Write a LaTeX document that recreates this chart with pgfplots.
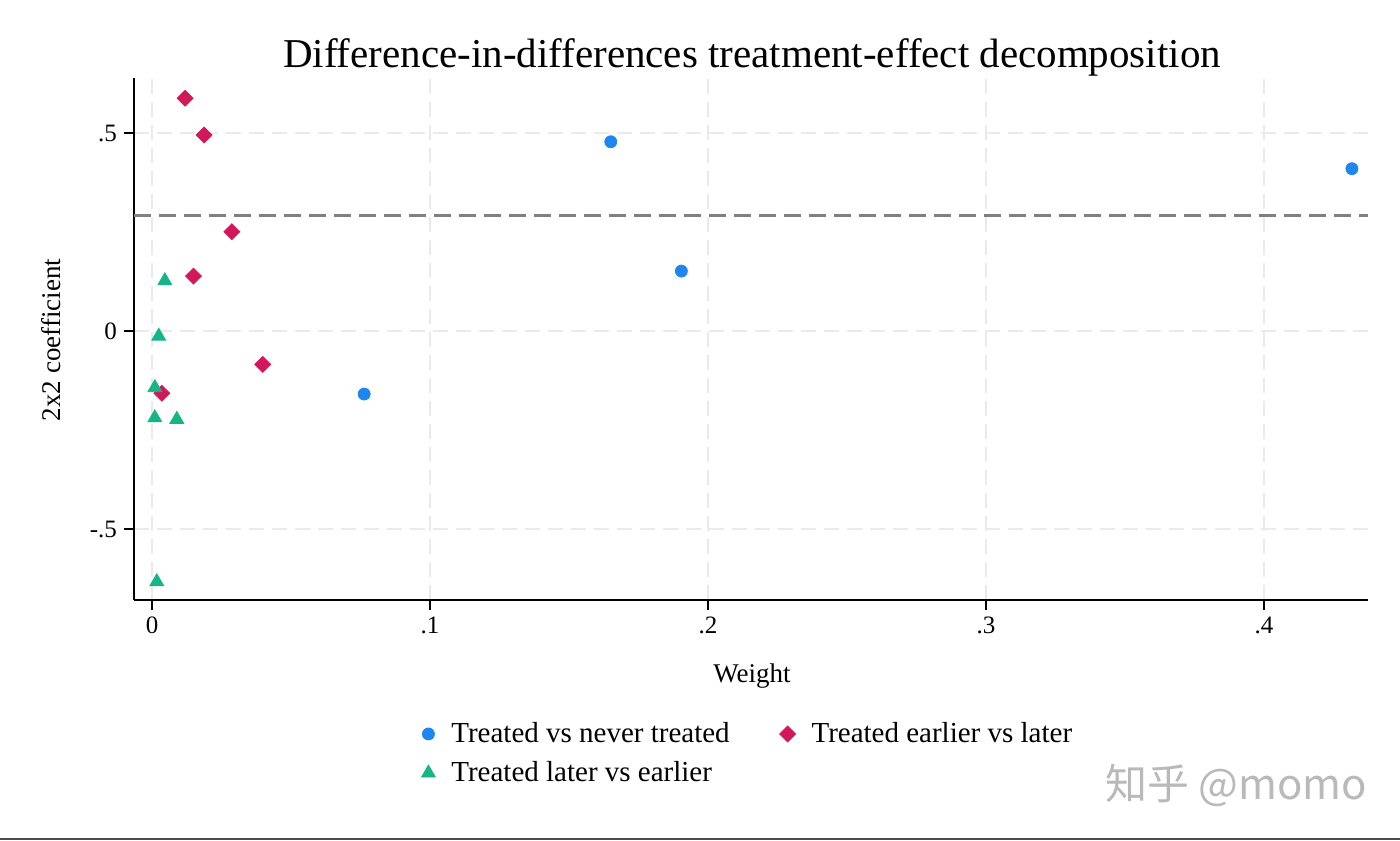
\documentclass[border=0pt]{standalone}
\usepackage{fontspec}
\setmainfont{Liberation Serif}
\newfontfamily\cjk{Noto Sans CJK SC}
\usepackage{pgfplots}
\pgfplotsset{compat=1.18}

\definecolor{cblue}{RGB}{31,133,240}
\definecolor{cred}{RGB}{211,23,91}
\definecolor{cgreen}{RGB}{22,180,134}
\definecolor{gridc}{RGB}{234,234,234}
\definecolor{refc}{RGB}{128,128,128}

\begin{document}
\begin{tikzpicture}
\path[use as bounding box] (0,0) rectangle (700pt,420pt);

\begin{axis}[
  at={(67pt,120pt)}, anchor=south west,
  scale only axis, width=617pt, height=261pt,
  xmin=-0.0065, xmax=0.4374, ymin=-0.679, ymax=0.639,
  axis lines*=left,
  axis line style={line width=0.8pt, -},
  tick style={black, line width=0.8pt},
  tick align=outside, major tick length=5pt,
  xtick={0,0.1,0.2,0.3,0.4}, xticklabels={0,.1,.2,.3,.4},
  ytick={-0.5,0,0.5}, yticklabels={-.5,0,.5},
  ticklabel style={font=\fontsize{12.5}{14}\selectfont},
  grid=major,
  major grid style={gridc, line width=1pt, dash pattern=on 7.5pt off 4pt},
  legend columns=2,
  legend cell align=left,
  legend style={draw=none, at={(0.2278,0)}, anchor=north west, yshift=-57pt,
    font=\fontsize{14.5}{17}\selectfont, row sep=4pt,
    /tikz/every odd column/.append style={column sep=6pt},
    /tikz/every even column/.append style={column sep=23pt}},
]
% reference line (overall DD estimate)
\addplot[refc, line width=1.5pt, dash pattern=on 8.5pt off 4pt, forget plot]
  coordinates {(-0.0065,0.291) (0.4374,0.291)};

\addplot[only marks, mark=*, mark size=3pt, color=cblue]
  coordinates {(0.165,0.478) (0.1904,0.1515) (0.0763,-0.159) (0.4316,0.410)};
\addlegendentry{Treated vs never treated}

\addplot[only marks, mark=square*, mark size=2.8pt, mark options={rotate=45}, color=cred]
  coordinates {(0.0119,0.588) (0.0187,0.495) (0.0287,0.251) (0.0149,0.139)
               (0.0398,-0.084) (0.0035,-0.157)};
\addlegendentry{Treated earlier vs later}

\addplot[only marks, mark=triangle*, mark size=4pt, color=cgreen]
  coordinates {(0.0046,0.127) (0.0024,-0.013) (0.0010,-0.143) (0.0010,-0.219)
               (0.0089,-0.223) (0.0017,-0.633)};
\addlegendentry{Treated later vs earlier}
\end{axis}

\node[anchor=base, font=\fontsize{20.5}{24}\selectfont] at (376pt,386pt)
  {Difference-in-differences treatment-effect decomposition};
\node[anchor=base, font=\fontsize{13.5}{16}\selectfont] at (376pt,78.7pt) {Weight};
\node[anchor=base, rotate=90, font=\fontsize{13.5}{16}\selectfont] at (30pt,250pt)
  {2x2 coefficient};

\node[text=gray!55, font=\cjk\fontsize{21}{24}\selectfont] at (618pt,27.5pt) {知乎 @momo};
\draw[black!70, line width=1.2pt] (0,0.6pt) -- (700pt,0.6pt);
\end{tikzpicture}
\end{document}
